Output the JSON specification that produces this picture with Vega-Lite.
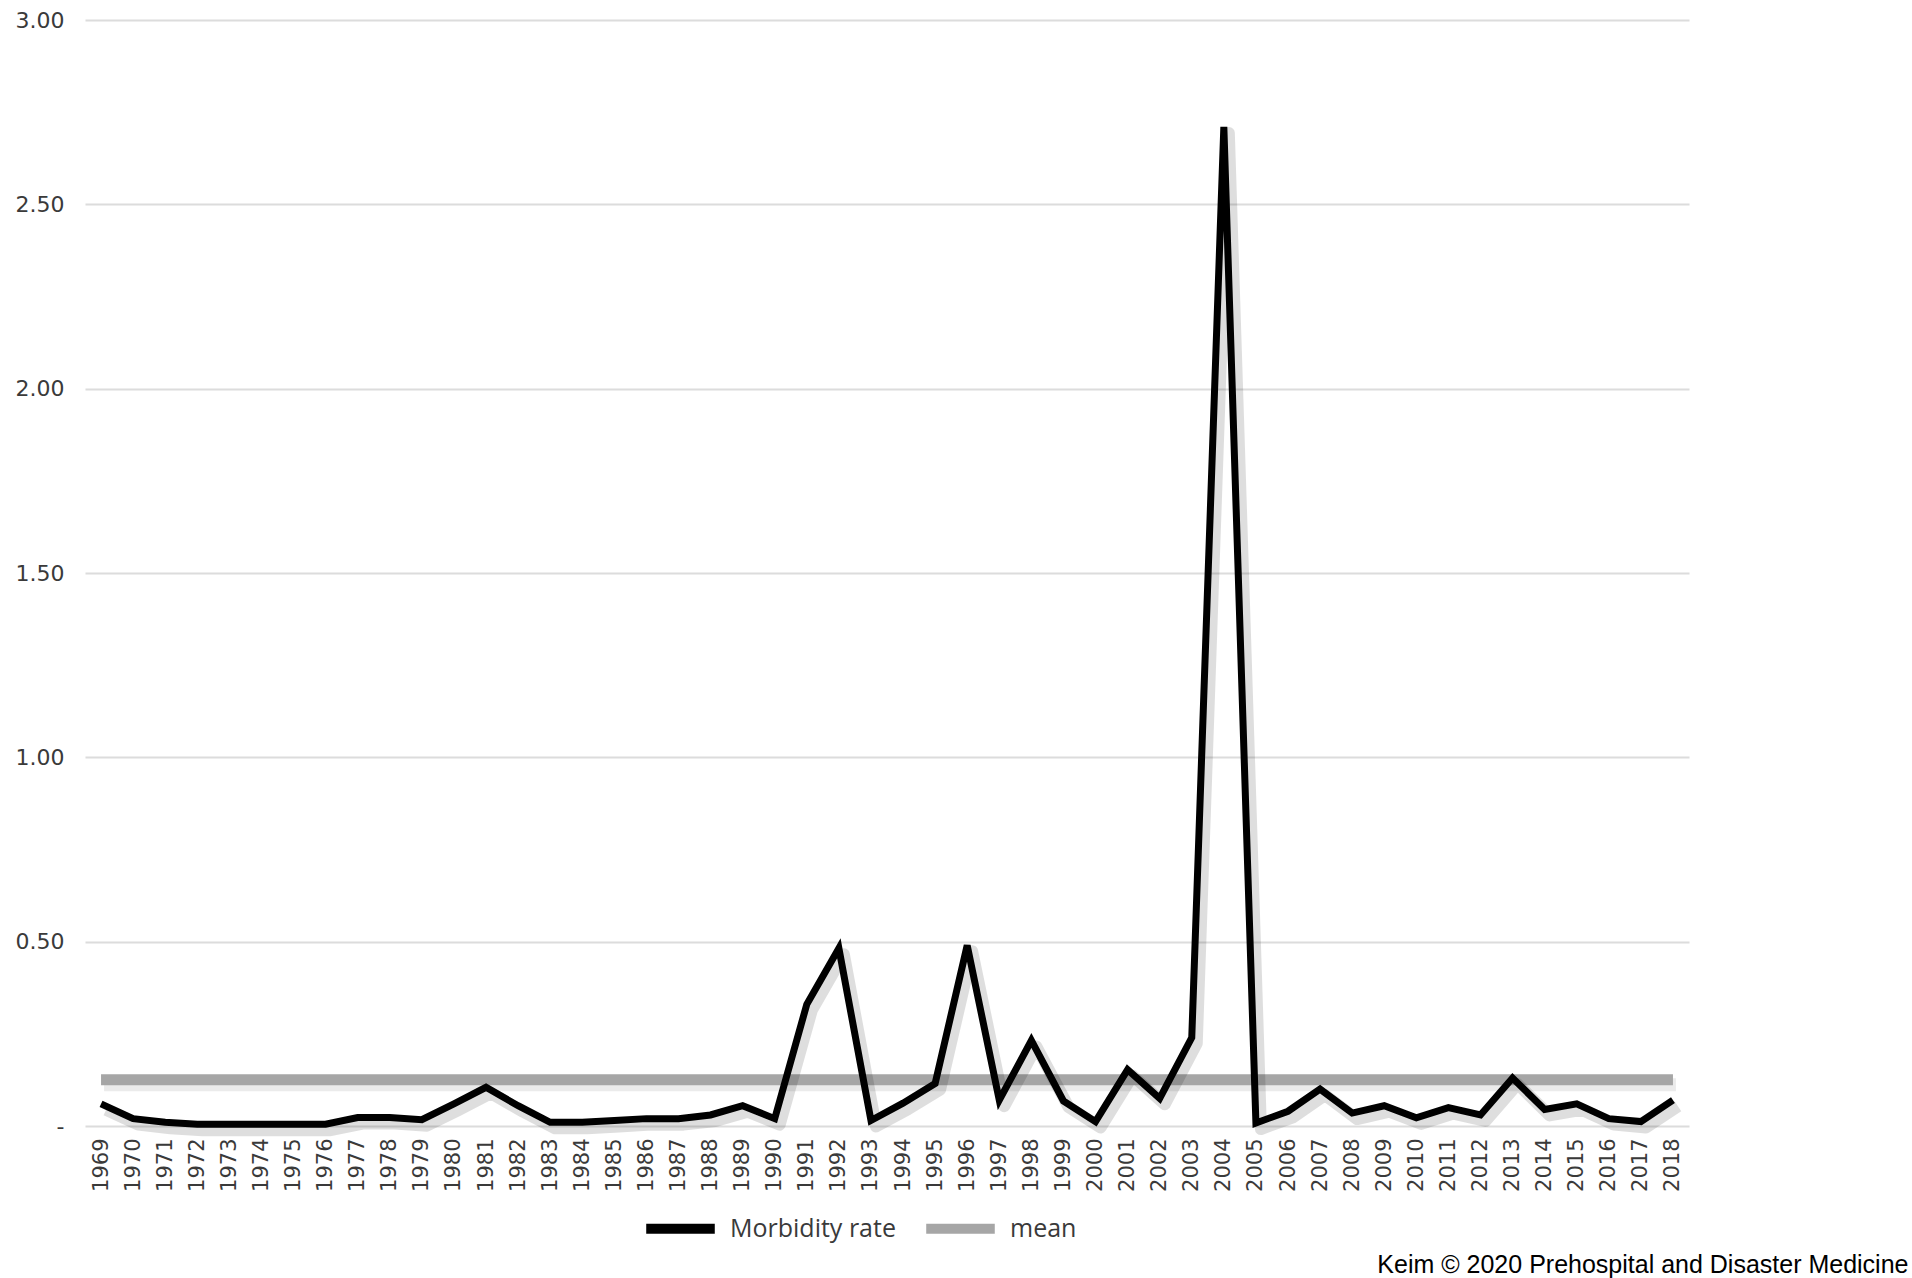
{
  "$schema": "https://vega.github.io/schema/vega-lite/v6.json",
  "width": 1604,
  "height": 1106,
  "autosize": {"type": "none"},
  "padding": {"left": 85, "top": 20, "right": 223, "bottom": 152},
  "background": "#ffffff",
  "config": {"view": {"stroke": null}},
  "datasets": {
    "rates": [
      {"year": "1969", "series": "Morbidity rate", "value": 0.060},
      {"year": "1970", "series": "Morbidity rate", "value": 0.020},
      {"year": "1971", "series": "Morbidity rate", "value": 0.010},
      {"year": "1972", "series": "Morbidity rate", "value": 0.005},
      {"year": "1973", "series": "Morbidity rate", "value": 0.005},
      {"year": "1974", "series": "Morbidity rate", "value": 0.005},
      {"year": "1975", "series": "Morbidity rate", "value": 0.005},
      {"year": "1976", "series": "Morbidity rate", "value": 0.005},
      {"year": "1977", "series": "Morbidity rate", "value": 0.023},
      {"year": "1978", "series": "Morbidity rate", "value": 0.023},
      {"year": "1979", "series": "Morbidity rate", "value": 0.017},
      {"year": "1980", "series": "Morbidity rate", "value": 0.060},
      {"year": "1981", "series": "Morbidity rate", "value": 0.105},
      {"year": "1982", "series": "Morbidity rate", "value": 0.055},
      {"year": "1983", "series": "Morbidity rate", "value": 0.010},
      {"year": "1984", "series": "Morbidity rate", "value": 0.010},
      {"year": "1985", "series": "Morbidity rate", "value": 0.015},
      {"year": "1986", "series": "Morbidity rate", "value": 0.020},
      {"year": "1987", "series": "Morbidity rate", "value": 0.020},
      {"year": "1988", "series": "Morbidity rate", "value": 0.030},
      {"year": "1989", "series": "Morbidity rate", "value": 0.055},
      {"year": "1990", "series": "Morbidity rate", "value": 0.020},
      {"year": "1991", "series": "Morbidity rate", "value": 0.330},
      {"year": "1992", "series": "Morbidity rate", "value": 0.482},
      {"year": "1993", "series": "Morbidity rate", "value": 0.015},
      {"year": "1994", "series": "Morbidity rate", "value": 0.062},
      {"year": "1995", "series": "Morbidity rate", "value": 0.115},
      {"year": "1996", "series": "Morbidity rate", "value": 0.490},
      {"year": "1997", "series": "Morbidity rate", "value": 0.070},
      {"year": "1998", "series": "Morbidity rate", "value": 0.232},
      {"year": "1999", "series": "Morbidity rate", "value": 0.068},
      {"year": "2000", "series": "Morbidity rate", "value": 0.012},
      {"year": "2001", "series": "Morbidity rate", "value": 0.153},
      {"year": "2002", "series": "Morbidity rate", "value": 0.075},
      {"year": "2003", "series": "Morbidity rate", "value": 0.240},
      {"year": "2004", "series": "Morbidity rate", "value": 2.710},
      {"year": "2005", "series": "Morbidity rate", "value": 0.008},
      {"year": "2006", "series": "Morbidity rate", "value": 0.040},
      {"year": "2007", "series": "Morbidity rate", "value": 0.100},
      {"year": "2008", "series": "Morbidity rate", "value": 0.035},
      {"year": "2009", "series": "Morbidity rate", "value": 0.055},
      {"year": "2010", "series": "Morbidity rate", "value": 0.022},
      {"year": "2011", "series": "Morbidity rate", "value": 0.050},
      {"year": "2012", "series": "Morbidity rate", "value": 0.030},
      {"year": "2013", "series": "Morbidity rate", "value": 0.130},
      {"year": "2014", "series": "Morbidity rate", "value": 0.045},
      {"year": "2015", "series": "Morbidity rate", "value": 0.060},
      {"year": "2016", "series": "Morbidity rate", "value": 0.020},
      {"year": "2017", "series": "Morbidity rate", "value": 0.012},
      {"year": "2018", "series": "Morbidity rate", "value": 0.070}
    ],
    "mean": [
      {"year": "1969", "series": "mean", "value": 0.1257},
      {"year": "2018", "series": "mean", "value": 0.1257}
    ]
  },
  "encoding": {
    "x": {
      "field": "year",
      "type": "ordinal",
      "scale": {"type": "point", "padding": 0.5},
      "axis": {
        "title": "Keim © 2020 Prehospital and Disaster Medicine",
        "titleFont": "Liberation Sans",
        "titleFontSize": 25,
        "titleFontWeight": "normal",
        "titleColor": "#000000",
        "titleAnchor": null,
        "titleAlign": "right",
        "titleBaseline": "middle",
        "titleX": 1823,
        "titleY": 138,
        "titleLimit": 0,
        "labelAngle": 270,
        "labelFont": "DejaVu Sans",
        "labelFontSize": 21,
        "labelColor": "#3a3a3a",
        "labelPadding": 12,
        "ticks": false,
        "domain": false,
        "grid": false
      }
    },
    "y": {
      "field": "value",
      "type": "quantitative",
      "scale": {"domain": [0, 3], "nice": false},
      "axis": {
        "title": null,
        "values": [0, 0.5, 1, 1.5, 2, 2.5, 3],
        "labelExpr": "datum.value == 0 ? '-' : format(datum.value, '.2f')",
        "labelFont": "DejaVu Sans",
        "labelFontSize": 22,
        "labelColor": "#3a3a3a",
        "labelPadding": 21,
        "ticks": false,
        "domain": false,
        "grid": true,
        "gridColor": "#dcdcdc",
        "gridWidth": 2
      }
    },
    "color": {
      "field": "series",
      "type": "nominal",
      "scale": {"domain": ["Morbidity rate", "mean"], "range": ["#000000", "#a6a6a6"]},
      "legend": {
        "title": null,
        "orient": "none",
        "direction": "horizontal",
        "legendX": 556,
        "legendY": 1169,
        "symbolType": "stroke",
        "symbolSize": 4700,
        "symbolStrokeWidth": 10,
        "labelFont": "Open Sans",
        "labelFontSize": 25,
        "labelLimit": 0,
        "labelColor": "#3a3a3a",
        "labelOffset": 10,
        "columnPadding": 10
      }
    }
  },
  "layer": [
    {
      "data": {"name": "mean"},
      "mark": {"type": "line", "color": "#000000", "opacity": 0.08, "strokeWidth": 13, "xOffset": 3, "yOffset": 5, "strokeCap": "butt"},
      "encoding": {"color": {"value": "#000000"}}
    },
    {
      "data": {"name": "mean"},
      "mark": {"type": "line", "strokeWidth": 11, "strokeCap": "butt"}
    },
    {
      "data": {"name": "rates"},
      "mark": {"type": "line", "opacity": 0.13, "strokeWidth": 12, "xOffset": 5, "yOffset": 6, "strokeJoin": "round"},
      "encoding": {"color": {"value": "#000000"}}
    },
    {
      "data": {"name": "rates"},
      "mark": {"type": "line", "strokeWidth": 7, "strokeJoin": "miter", "strokeCap": "butt"}
    }
  ]
}
